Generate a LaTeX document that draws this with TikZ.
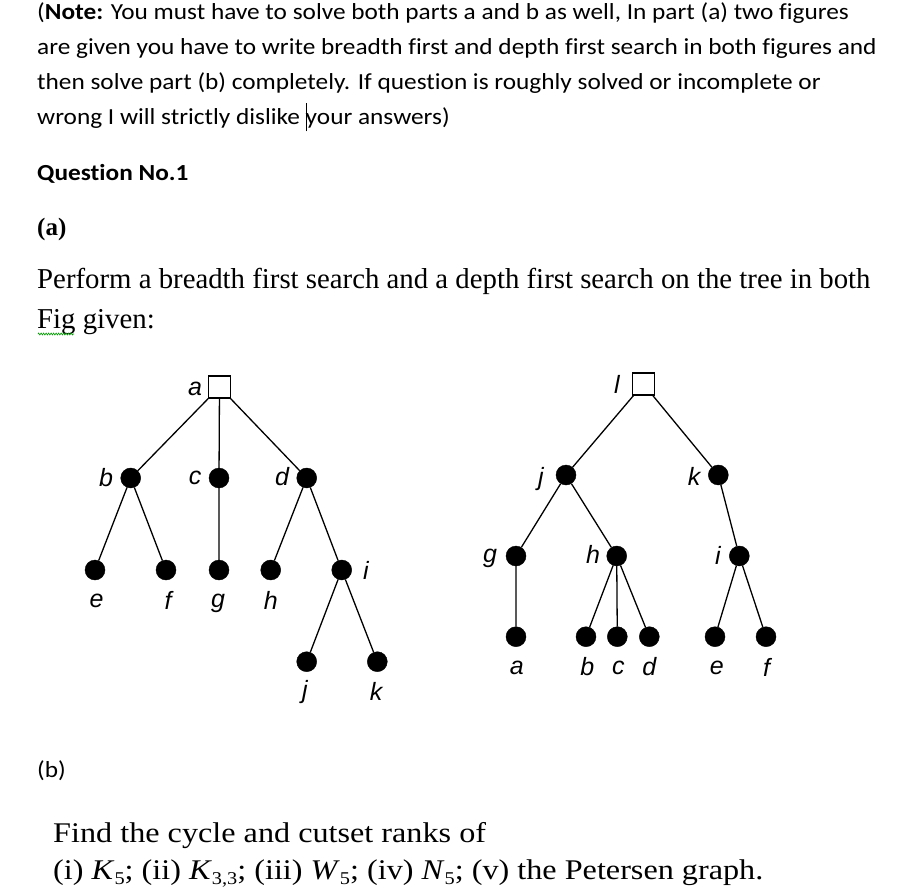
\documentclass[tikz,border=0pt]{standalone}
\usepackage{fontspec}
\setmainfont{Liberation Serif}
\newfontfamily\calfont[Ligatures={NoCommon}]{Carlito}
\newfontfamily\arfont{Liberation Sans}
\usetikzlibrary{decorations.pathmorphing}
\newcommand{\subn}[1]{\raisebox{-0.4ex}{\fontsize{18}{18}\selectfont #1}}
\newcommand{\calx}[1]{\scalebox{1.1}[1]{#1}}
\newcommand{\bookx}[1]{\scalebox{1.13}[1]{#1}}
\tikzset{
  dot/.style={circle,fill=black,draw=black,inner sep=0pt,minimum size=20pt},
  root/.style={rectangle,draw=black,fill=white,line width=1.1pt,inner sep=0pt,minimum size=22pt},
  lab/.style={font=\arfont\itshape\fontsize{25}{25}\selectfont,inner sep=0pt},
  edge/.style={line width=1.3pt,black},
  note/.style={font=\calfont\fontsize{23}{23}\selectfont,anchor=base west,inner sep=0pt},
  tms/.style={font=\fontsize{28.8}{28.8}\selectfont,anchor=base west,inner sep=0pt},
  bk/.style={font=\fontsize{28.5}{28.5}\selectfont,anchor=base west,inner sep=0pt},
}
\begin{document}
\begin{tikzpicture}[x=1pt,y=-1pt]
\fill[white] (0,0) rectangle (907,896);
\useasboundingbox (0,0) rectangle (907,896);
% Note text
\node[note] (n1) at (37,19.5) {\calx{(\textbf{Note:} You must have to solve both parts a and b as well, In part (a) two figures}};
\node[note] (n2) at (37,54.5) {\calx{are given you have to write breadth first and depth first search in both figures and}};
\node[note] (n3) at (37,89.5) {\calx{then solve part (b) completely. If question is roughly solved or incomplete or}};
\node[note] (n4) at (37,124.5) {\calx{wrong I will strictly dislike \makebox[0pt][l]{\rule[-7pt]{0.8pt}{28pt}}your answers)}};
\node[note,font=\calfont\bfseries\fontsize{23}{23}\selectfont] (q1) at (37,181) {\calx{Question No.1}};
\node[tms,font=\bfseries\fontsize{25}{25}\selectfont] (pa) at (37,235) {(a)};
\node[tms] (p1) at (37,288) {Perform a breadth first search and a depth first search on the tree in both};
\node[tms] (p2) at (37,328) {Fig given:};
\draw[green!60!black,line width=0.6pt,decorate,decoration={zigzag,amplitude=1pt,segment length=2.5pt}] (38,334) -- (74,334);
% Tree 1
\node[root] (A) at (219.5,387) {};
\node[dot] (B) at (130.7,478) {};
\node[dot] (C) at (219,478) {};
\node[dot] (D) at (306.7,478) {};
\node[dot] (E) at (95,570) {};
\node[dot] (F) at (166,570) {};
\node[dot] (G) at (219,570) {};
\node[dot] (H) at (270.7,570) {};
\node[dot] (I) at (341.7,570) {};
\node[dot] (J) at (306.7,661.7) {};
\node[dot] (K) at (377.3,661.7) {};
\draw[edge] (A) -- (B) (A) -- (C) (A) -- (D) (B) -- (E) (B) -- (F) (C) -- (G)
  (D) -- (H) (D) -- (I) (I) -- (J) (I) -- (K);
\node[lab] (la) at (195,389) {a};
\node[lab] (lb) at (106,478) {b};
\node[lab] (lc) at (195,478) {c};
\node[lab] (ld) at (282,477) {d};
\node[lab] (le) at (96.7,601) {e};
\node[lab] (lf) at (168,600) {f};
\node[lab] (lg) at (218,603) {g};
\node[lab] (lh) at (270.7,600) {h};
\node[lab] (li) at (366,570) {i};
\node[lab] (lj) at (305,692) {j};
\node[lab] (lk) at (376,691) {k};
% Tree 2
\node[root] (L2) at (643.3,384) {};
\node[dot] (J2) at (566,475) {};
\node[dot] (K2) at (718.3,475) {};
\node[dot] (G2) at (516,556) {};
\node[dot] (H2) at (616.7,556) {};
\node[dot] (I2) at (739.3,556) {};
\node[dot] (A2) at (516,636.7) {};
\node[dot] (B2) at (586,636.7) {};
\node[dot] (C2) at (617.3,636.7) {};
\node[dot] (D2) at (649.3,636.7) {};
\node[dot] (E2) at (715,636.7) {};
\node[dot] (F2) at (766,636.7) {};
\draw[edge] (L2) -- (J2) (L2) -- (K2) (J2) -- (G2) (J2) -- (H2) (K2) -- (I2)
  (G2) -- (A2) (H2) -- (B2) (H2) -- (C2) (H2) -- (D2) (I2) -- (E2) (I2) -- (F2);
\node[lab] (ll2) at (617,384) {l};
\node[lab] (lj2) at (541,479) {j};
\node[lab] (lk2) at (694,476) {k};
\node[lab] (lg2) at (490,558) {g};
\node[lab] (lh2) at (593,554) {h};
\node[lab] (li2) at (718,555) {i};
\node[lab] (la2) at (516.7,668) {a};
\node[lab] (lb2) at (587.3,667) {b};
\node[lab] (lc2) at (618.3,668) {c};
\node[lab] (ld2) at (649.3,667) {d};
\node[lab] (le2) at (716.7,668) {e};
\node[lab] (lf2) at (766.7,667) {f};
% Part b
\node[note] (pb) at (37,777) {\calx{(b)}};
\node[bk] (f1) at (53,842) {\bookx{Find the cycle and cutset ranks of}};
\node[bk] (f2) at (53,879) {\bookx{(i) \textit{K}\subn{5}; (ii) \textit{K}\subn{3,3}; (iii) \textit{W}\subn{5}; (iv) \textit{N}\subn{5}; (v) the Petersen graph.}};
\end{tikzpicture}
\end{document}
